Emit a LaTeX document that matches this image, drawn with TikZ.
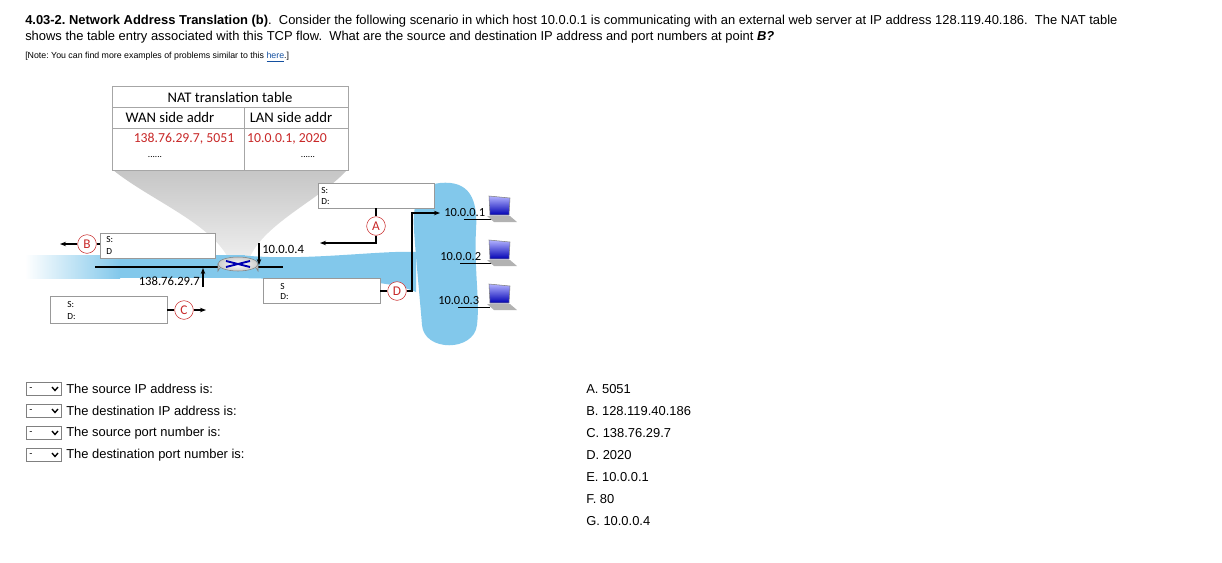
\documentclass[tikz,border=0pt]{standalone}
\usepackage{fontspec}
\setmainfont{Liberation Sans}
\newfontfamily\calfont{Carlito}
\usetikzlibrary{arrows.meta,shadings}
\definecolor{natred}{RGB}{200,40,40}
\definecolor{lanblue}{RGB}{130,200,235}
\definecolor{linkc}{RGB}{20,80,160}
\frenchspacing
\begin{document}
\begin{tikzpicture}[x=0.75pt,y=-0.75pt,
  pkt/.style={draw=gray!80,fill=white,line width=0.5pt},
  lbl/.style={circle,draw=natred,text=natred,inner sep=0pt,minimum size=14pt,font=\calfont\fontsize{10}{10}\selectfont,fill=white},
  arr/.style={line width=1.1pt,-{Stealth[length=4.5pt]}},
  ln/.style={line width=1.1pt},
  q/.style={anchor=west,font=\fontsize{9.7}{10}\selectfont,inner sep=0pt},
  dd/.style={draw=gray,minimum width=26pt,minimum height=10pt,inner sep=0pt},
  sd/.style={anchor=west,font=\calfont\fontsize{7}{7}\selectfont,inner sep=0pt},
  host/.style={anchor=west,font=\calfont\fontsize{9.3}{9}\selectfont,inner sep=0pt}]
\useasboundingbox (0,0) rectangle (1222,562);
% header
\node[q] (t1) at (25,21) {\textbf{4.03-2. Network Address Translation (b)}.\ \ Consider the following scenario in which host 10.0.0.1 is communicating with an external web server at IP address 128.119.40.186.\ \ The NAT table};
\node[q] (t2) at (25,37) {shows the table entry associated with this TCP flow.\ \ What are the source and destination IP address and port numbers at point \textbf{\textit{B?}}};
\node[q,font=\fontsize{6.6}{7}\selectfont] (t3) at (25,57) {[Note: You can find more examples of problems similar to this \textcolor{linkc}{\underline{here}}.]};
% gray funnel
\shade[top color=gray!45,bottom color=gray!12]
  (113,170) .. controls (150,200) and (215,225) .. (230,262) -- (248,262)
  .. controls (260,225) and (320,200) .. (347,170) -- cycle;
% blue areas
\shade[left color=white,right color=lanblue] (25,255) rectangle (120,278);
\fill[lanblue] (120,255) rectangle (245,278);
\fill[lanblue] (240,255) .. controls (300,262) and (380,250) .. (416,252)
  -- (416,292) .. controls (380,276) and (300,280) .. (240,278) -- cycle;
\fill[lanblue] (440,183) .. controls (470,180) and (478,200) .. (476,230)
  .. controls (474,270) and (480,300) .. (477,325) .. controls (474,352) and (424,352) .. (422,325)
  .. controls (420,300) and (416,260) .. (414,230) .. controls (412,200) and (420,185) .. (440,183) -- cycle;
% NAT table
\draw[gray!70,fill=white] (112,86) rectangle (348,170);
\draw[gray!70] (112,107) -- (348,107) (112,128) -- (348,128) (244,107) -- (244,170);
\node[font=\calfont\fontsize{11}{11}\selectfont] (tt) at (230,97) {NAT translation table};
\node[font=\calfont\fontsize{11}{11}\selectfont] (h1) at (170,117.5) {WAN side addr};
\node[font=\calfont\fontsize{11}{11}\selectfont] (h2) at (291,117.5) {LAN side addr};
\node[font=\calfont\fontsize{10.3}{10}\selectfont,text=natred] (r1) at (184,139) {138.76.29.7, 5051};
\node[font=\calfont\fontsize{10.3}{10}\selectfont,text=natred] (r2) at (287,139) {10.0.0.1, 2020};
\node[font=\calfont\scriptsize] (d1) at (155,157) {......};
\node[font=\calfont\scriptsize] (d2) at (308,157) {......};
% link line and router
\draw[ln] (95,267) -- (283,267);
\shade[top color=gray!20,bottom color=gray!60,draw=gray] (218,264) -- (218,271) arc[start angle=180,end angle=360,x radius=20,y radius=7] -- (258,264) -- cycle;
\shade[inner color=white,outer color=gray!40,draw=gray] (238,264) ellipse[x radius=20,y radius=7];
\draw[blue!70!black,line width=1.4pt] (226,261) -- (250,267) (226,267) -- (250,261);
\coordinate (rt) at (238,265);
% B packet
\draw[pkt] (100,233) rectangle (215,258);
\node[sd] (bs) at (106,239) {S:};
\node[sd] (bd) at (106,251) {D};
\node[lbl] (B) at (87,244) {B};
\draw[ln] (B) -- (100,244);
\coordinate (Bend) at (60,244);
\draw[arr] (B) -- (Bend);
% addresses
\node[font=\calfont\fontsize{9.5}{10}\selectfont,anchor=east,inner sep=0pt] (wa) at (200,281) {138.76.29.7};
\draw[arr] (203,287) -- (203,268);
\node[font=\calfont\fontsize{9.5}{10}\selectfont,anchor=west,inner sep=0pt] (la) at (262,249) {10.0.0.4};
\draw[arr] (259,243) -- (259,265);
% C packet
\draw[pkt] (50,296) rectangle (167,323);
\node[sd] (cs) at (67,304) {S:};
\node[sd] (cd) at (67,317) {D:};
\node[lbl] (C) at (184,310) {C};
\draw[ln] (167,310) -- (C);
\coordinate (Cend) at (206,310);
\draw[arr] (C) -- (Cend);
% A packet
\draw[pkt] (318,183) rectangle (434,208);
\node[sd] (as) at (321,190) {S:};
\node[sd] (ad) at (321,202) {D:};
\node[lbl] (A) at (376,226) {A};
\draw[ln] (376,208) -- (A);
\coordinate (Aend) at (320,243);
\draw[arr] (A) -- (376,243) -- (Aend);
% D packet
\draw[pkt] (263,278) rectangle (380,303);
\node[sd] (ds) at (280,286) {S};
\node[sd] (ddl) at (280,297) {D:};
\node[lbl] (D) at (397,291) {D};
\draw[ln] (380,291) -- (D);
\coordinate (Dend) at (440,213);
\draw[arr] (D) -- (412,291) -- (412,213) -- (Dend);
% hosts
\foreach \n/\y/\xl in {1/213/444,2/257/440,3/301/438}{
  \node[host] (h\n) at (\xl,\y) {10.0.0.\n};
  \draw[line width=0.7pt] (\xl+20,\y+6) -- (\xl+52,\y+6);
  \shade[top color=blue!30,bottom color=blue!70!black,draw=gray] (489,\y-17) -- (510,\y-15) -- (509,\y+2) -- (490,\y+2) -- cycle;
  \fill[gray!60] (487,\y+3) -- (510,\y+3) -- (517,\y+9) -- (494,\y+9) -- cycle;
}
% questions
\foreach \i/\t in {0/The source IP address is:,1/The destination IP address is:,2/The source port number is:,3/The destination port number is:}{
  \node[dd] (sel\i) at (44,389+22*\i) {};
  \node[anchor=west,inner sep=0pt,font=\fontsize{7}{8}\selectfont] at (29,389+22*\i) {-};
  \draw[line width=1pt] (52,387+22*\i) -- (55,390.5+22*\i) -- (58,387+22*\i);
  \node[q] (qq\i) at (66,389+22*\i) {\t};
}
% answers
\foreach \i/\t in {0/A. 5051,1/B. 128.119.40.186,2/C. 138.76.29.7,3/D. 2020,4/E. 10.0.0.1,5/F. 80,6/G. 10.0.0.4}{
  \node[q] (ans\i) at (586,389+22*\i) {\t};
}
\end{tikzpicture}
\end{document}
